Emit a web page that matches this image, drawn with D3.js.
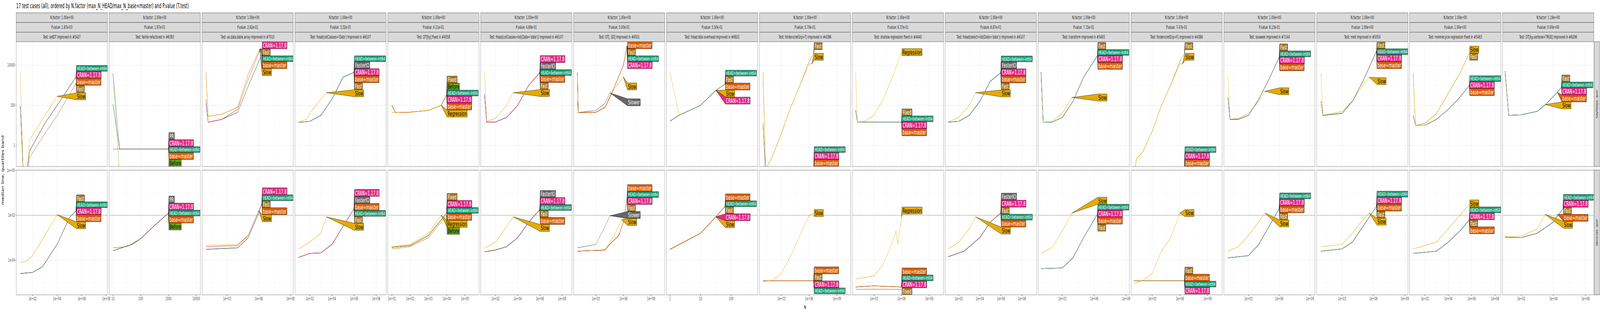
<!DOCTYPE html>
<html><head><meta charset="utf-8">
<script src="https://cdn.jsdelivr.net/npm/d3@7"></script>
<style>html,body{margin:0;padding:0;background:#fff;overflow:hidden}svg{display:block}</style>
</head><body>
<script>
// facet strips
var testNames = ['setDT improved in #5427', 'fwrite refactored in #6393', 'as.data.table.array improved in #7010',
  "fread(colClasses='Date') improved in #6107", 'DT[by] fixed in #4558', "fread(colClasses=list(Date='date')) improved in #6107",
  'DT[,.SD] improved in #4501', 'fread disk overhead improved in #6925', 'forderv(retGrp=T) improved in #4386',
  'shallow regression fixed in #4440', "fread(select=list(Date='date')) improved in #6107", 'transform improved in #5493',
  'forderv(retGrp=F) improved in #4386', 'isoweek improved in #7144', 'melt improved in #5054',
  'memrecycle regression fixed in #5463', 'DT[by,verbose=TRUE] improved in #6296'];
var pValues = ['1.87e-03', '1.97e-01', '2.62e-01', '3.32e-01', '4.11e-01', '4.69e-01', '5.00e-01', '5.50e-01', '5.70e-01',
  '6.37e-01', '6.87e-01', '7.15e-01', '7.47e-01', '8.13e-01', '1.00e+00', '1.00e+00', '0.00e+00'];
var nFactors = ['1.00e+00', '1.00e+00', '1.00e+00', '1.00e+00', '1.00e+00', '1.00e+00', '1.00e+00', '1.00e+00', '1.00e+00',
  '1.00e+00', '1.00e+00', '1.00e+00', '1.00e+00', '1.00e+00', '1.00e+00', '1.00e+00', '1.19e+00'];

// x axis per panel, log10(N)
var xDomains = [[0.67, 8.1], [0.86, 4.15], [0.63, 9.27], [0.66, 8.9], [0.78, 5.77], [0.66, 8.9], [0.59, 10.5], [-0.115, 2.87],
  [0.61, 10.5], [0.64, 10.56], [0.71, 9.38], [0.72, 9.3], [0.69, 10.6], [0.6, 9.5], [0.6, 9.3], [0.7, 8.5], [0.84, 6.51]];
var xTicks = [[2, 4, 6, 8], [1, 2, 3, 4], [3, 6, 9], [2, 4, 6, 8], [1, 2, 3, 4, 5], [2, 4, 6, 8], [3, 6, 9], [0, 1, 2],
  [3, 6, 9], [3, 6, 9], [2, 4, 6, 8], [3, 6, 9], [3, 6, 9], [3, 6, 9], [3, 6, 9], [2, 4, 6, 8], [2, 4, 6]];
var plainTickPanels = [1, 7];

// y axis per row, log10(value)
var units = ['kilobytes', 'seconds'];
var yDomains = [[-1.05, 5.17], [-5.55, 0.02]];
var yTicks = [[0, 2, 4], [-4, -2, 0]];
var yTickLabels = [['1', '100', '10000'], ['1e-04', '1e-02', '1e+00']];

var colors = {'HEAD=between-int64': '#1B9E77', 'CRAN=1.17.8': '#E7298A', 'base=master': '#D95F02', 'Fast': '#A6761D',
  'Slow': '#E6AB02', 'Before': '#66A61E', 'PR': '#666666', 'FasterIO': '#666666', 'Slower': '#666666',
  'Regression': '#E6AB02', 'Fixed': '#A6761D'};
var darkText = ['Slow', 'Before', 'Regression'];

var H = 'HEAD=between-int64', C = 'CRAN=1.17.8', B = 'base=master';

// [panel, row, label, [[log10 N, log10 value], ...]]
var p0kb = [[1, 1.95], [1.25, -1.5], [1.5, -1.5], [1.76, -0.27], [3, 1.1], [4, 2.0], [5.54, 3.42]];
var p0sec = [[1, -4.6], [2, -4.55], [2.8, -4.3], [4, -3.3], [5, -2.1], [5.54, -1.8]];
var p1kb = [[1, 2.06], [1.24, -0.18], [3, -0.18]];
var p1sec = [[1, -3.58], [1.7, -3.29], [2, -3.04], [2.5, -2.45], [3, -1.9]];
var p2kb = [[1, 2.3], [1.21, 1.16], [2.5, 1.3], [4, 1.65], [5, 2.95], [6.3, 4.55]];
var p2kbUp = [[1, 3.66], [1.21, 1.45], [2.5, 1.56], [4, 1.9], [5, 3.54], [6.1, 4.8]];
var p2sec = [[1, -3.52], [4, -3.45], [5, -3.0], [6, -1.9], [6.3, -1.45]];
var p3kb = [[1, 1.15], [2, 1.2], [3, 1.5], [4, 2.3], [5, 3.4], [6, 3.64]];
var p3sec = [[1, -3.88], [2, -3.7], [3, -3.68], [4, -3.3], [5, -2.5], [6, -1.7]];
var p4kb = [[1, 2.0], [1.2, 1.64], [2, 1.66], [3, 1.75], [3.7, 2.0], [4, 2.53]];
var p4sec = [[1, -3.43], [2, -3.35], [3, -2.9], [4, -1.9]];
var p5kb = [[1, 2.57], [1.2, 1.16], [2, 1.17], [3, 1.4], [4, 2.0], [5, 3.0], [6, 3.63]];
var p5sec = [[1, -3.63], [2, -3.55], [3, -3.4], [4, -3.0], [5, -2.3], [6, -1.75]];
var p6kb = [[1, 3.63], [1.1, 1.64], [3, 1.65], [4, 1.9], [5, 2.9], [6, 4.0], [6.4, 4.96]];
var p6sec = [[1, -3.6], [4, -3.55], [4.5, -3.3], [5.5, -2.9], [6, -2.3], [6.4, -1.24]];
var p7kb = [[0, 1.21], [0.3, 1.51], [1, 2.0], [1.5, 2.75], [1.8, 3.05]];
var p7sec = [[0, -3.52], [1, -2.8], [1.5, -2.07], [1.8, -1.6]];
var p8kb = [[1, 1.1], [1.3, -1.5], [6.5, -1.5]];
var p8fast = [[1, 3.63], [1.3, -1.5], [1.5, -1.0], [2, -0.56], [3, 0.6], [4, 1.9], [5, 3.0], [6, 4.2], [6.5, 4.6]];
var p8sec = [[1, -4.92], [6.5, -4.92]];
var p9kb = [[1, 1.77], [1.2, 1.16], [6, 1.16]];
var p9sec = [[1, -5.2], [3, -5.15], [6, -5.2]];
var p10kb = [[1, 1.16], [2, 1.2], [3, 1.5], [4, 2.2], [5, 3.2], [6, 3.63]];
var p10sec = [[1, -3.85], [2.5, -3.6], [4, -3.0], [5, -2.3], [6, -1.9]];
var p11kb = [[1, 3.65], [1.2, 1.16], [2, 1.15], [3, 1.4], [4, 2.2], [5, 3.4], [6.3, 4.47]];
var p11sec = [[1, -4.38], [3, -4.35], [4, -3.9], [5, -3.0], [6.3, -1.95]];
var p12kb = [[1, -1.5], [6.5, -1.5]];
var p12fast = [[1, -1.5], [1.3, -0.65], [2, -0.3], [3, 0.7], [4, 2.0], [5, 3.0], [6, 4.2], [6.5, 4.6]];
var p12sec = [[1, -4.92], [6.5, -4.92]];
var p13kb = [[1, 2.4], [1.2, 1.3], [2, 1.3], [3, 1.5], [4, 2.3], [5, 3.3], [6, 4.4]];
var p13sec = [[1, -3.9], [3, -3.8], [4, -3.3], [5, -2.5], [6, -1.7]];
var p14kb = [[1, 2.2], [1.2, 1.5], [3, 1.6], [4, 2.2], [5, 3.2], [6.3, 4.7]];
var p14sec = [[1, -3.6], [3, -3.5], [4, -3.2], [5, -2.5], [6.3, -1.6]];
var p15kb = [[1, 1.5], [1.2, 1.0], [2, 1.0], [3, 1.3], [4, 1.8], [5, 2.4], [5.8, 3.0]];
var p15up = [[1, 3.6], [1.2, 1.0], [2, 1.1], [3, 1.6], [4, 2.6], [5, 3.6], [5.8, 4.6]];
var p15sec = [[1, -3.7], [3, -3.6], [4, -3.2], [5, -2.7], [5.8, -2.2]];
var p16kb = [[1, 3.7], [1.22, 1.5], [2, 1.53], [3, 1.7], [3.51, 2.04], [4.25, 2.65], [4.5, 2.9]];
var p16sec = [[1, -2.98], [2, -3.0], [3, -2.8], [4, -2.3], [4.6, -1.7]];

var lines = [
  [0, 0, 'Fast', [[1, 1.95], [1.25, -1.5], [1.6, -1.5], [1.76, -0.6], [3, 0.6], [4, 1.5], [5.54, 3.1]]],
  [0, 0, B, p0kb], [0, 0, C, p0kb], [0, 0, H, p0kb],
  [0, 0, 'Slow', [[1, 3.64], [1.25, -1.5], [1.5, -1.5], [1.76, 0.28], [4, 2.45]]],
  [0, 1, 'Fast', p0sec], [0, 1, B, p0sec], [0, 1, C, p0sec], [0, 1, H, p0sec],
  [0, 1, 'Slow', [[1, -4.1], [1.5, -4.05], [2, -3.8], [3, -2.9], [4, -1.97]]],

  [1, 0, 'Before', [[1, 3.59], [1.24, -1.5], [3, -1.5]]], [1, 0, C, [[1, -0.18], [3, -0.18]]],
  [1, 0, B, p1kb], [1, 0, H, p1kb], [1, 0, 'PR', [[1, 3.59], [1.24, -0.18], [3, -0.18]]],
  [1, 1, 'Before', [[1, -3.45], [1.5, -3.4], [2, -3.04], [2.5, -2.45], [3, -1.9]]],
  [1, 1, B, p1sec], [1, 1, H, p1sec], [1, 1, C, p1sec], [1, 1, 'PR', p1sec],

  [2, 0, 'Fast', p2kbUp], [2, 0, 'Slow', p2kbUp], [2, 0, B, p2kb], [2, 0, H, p2kb],
  [2, 0, C, [[1, 2.1], [1.21, 1.16], [2.5, 1.3], [4, 1.8], [5, 3.3], [6.3, 4.99]]],
  [2, 1, 'Slow', [[1, -3.34], [4, -3.3], [5, -2.9], [6, -1.8]]], [2, 1, 'Fast', p2sec], [2, 1, B, p2sec], [2, 1, H, p2sec],
  [2, 1, C, [[1, -3.4], [4, -3.35], [5, -2.9], [6, -1.8], [6.3, -1.45]]],

  [3, 0, 'Slow', [[1, 1.18], [1.7, 1.3], [2.2, 1.75], [3.5, 2.63]]], [3, 0, 'Fast', p3kb], [3, 0, B, p3kb],
  [3, 0, C, p3kb], [3, 0, 'FasterIO', p3kb], [3, 0, H, p3kb],
  [3, 1, 'Slow', [[1, -3.5], [2, -3.2], [3, -2.8], [3.5, -2.07]]], [3, 1, 'Fast', p3sec], [3, 1, H, p3sec],
  [3, 1, B, p3sec], [3, 1, 'FasterIO', p3sec], [3, 1, C, p3sec],

  [4, 0, 'Fixed', p4kb], [4, 0, 'Before', p4kb], [4, 0, H, p4kb], [4, 0, C, p4kb], [4, 0, B, p4kb],
  [4, 0, 'Regression', [[1, 1.64], [2, 1.66], [3, 1.75], [3.7, 2.0]]],
  [4, 1, 'Before', [[1, -3.5], [2, -3.4], [3, -3.0], [4, -2.0]]], [4, 1, 'Fixed', p4sec], [4, 1, C, p4sec],
  [4, 1, H, p4sec], [4, 1, B, p4sec], [4, 1, 'Regression', [[1, -3.4], [2, -3.3], [3, -2.8], [3.7, -2.0]]],

  [5, 0, 'Slow', [[1, 3.67], [1.2, 1.2], [2, 1.35], [3, 2.0], [3.6, 2.63]]], [5, 0, 'Fast', p5kb], [5, 0, B, p5kb],
  [5, 0, H, p5kb], [5, 0, 'FasterIO', p5kb], [5, 0, C, p5kb],
  [5, 1, 'Slow', [[1, -3.47], [2, -3.2], [3, -2.5], [3.6, -2.07]]], [5, 1, B, p5sec], [5, 1, 'Fast', p5sec],
  [5, 1, H, p5sec], [5, 1, C, p5sec], [5, 1, 'FasterIO', p5sec],

  [6, 0, 'Slower', [[1, 2.18], [1.1, 1.64], [3, 1.75], [4, 2.1], [4.54, 2.62]]],
  [6, 0, 'Slow', [[1, 3.63], [1.1, 1.64], [3, 1.65], [4, 1.9], [5, 2.8], [6, 3.41]]],
  [6, 0, C, p6kb], [6, 0, H, p6kb], [6, 0, 'Fast', p6kb], [6, 0, B, p6kb],
  [6, 1, 'Slower', [[1, -3.45], [3, -3.3], [4, -2.5], [4.54, -2.02]]],
  [6, 1, 'Slow', [[1, -3.6], [4, -3.55], [5, -2.9], [5.8, -2.2]]],
  [6, 1, 'Fast', p6sec], [6, 1, C, p6sec], [6, 1, H, p6sec], [6, 1, B, p6sec],

  [7, 0, 'Slow', [[0, 3.63], [0.3, 1.51], [1, 2.0], [1.5, 2.75]]], [7, 0, C, [[0, 1.21], [0.3, 1.51], [1, 2.0], [1.5, 2.75]]],
  [7, 0, B, p7kb], [7, 0, 'Fast', p7kb], [7, 0, H, p7kb],
  [7, 1, 'Slow', [[0, -3.52], [1, -2.8], [1.5, -2.07]]], [7, 1, C, [[0, -3.52], [1, -2.8], [1.5, -2.07]]],
  [7, 1, 'Fast', p7sec], [7, 1, H, p7sec], [7, 1, B, p7sec],

  [8, 0, B, p8kb], [8, 0, C, p8kb], [8, 0, H, p8kb], [8, 0, 'Fast', p8fast],
  [8, 0, 'Slow', [[1, 3.63], [1.3, -1.5], [1.5, -1.0], [2, -0.56], [3, 0.6], [4, 1.9], [5, 3.0], [6, 4.07], [6.3, 4.07]]],
  [8, 1, H, p8sec], [8, 1, C, p8sec], [8, 1, 'Fast', p8sec], [8, 1, B, p8sec],
  [8, 1, 'Slow', [[1, -4.96], [2, -4.9], [3, -4.6], [4, -3.8], [5, -2.9], [6, -2.0], [6.5, -1.9]]],

  [9, 0, 'Fixed', p9kb], [9, 0, B, p9kb], [9, 0, C, p9kb], [9, 0, H, p9kb],
  [9, 0, 'Regression', [[1, 3.63], [1.2, 1.16], [2, 1.2], [3, 1.5], [4, 2.3], [5, 3.4], [6, 4.65]]],
  [9, 1, 'Fixed', [[1, -5.3], [6, -5.3]]], [9, 1, C, p9sec], [9, 1, H, p9sec], [9, 1, B, p9sec],
  [9, 1, 'Regression', [[1, -4.85], [3, -4.7], [4, -4.2], [5, -3.2], [5.4, -2.7], [5.6, -3.3], [6, -2.07]]],

  [10, 0, 'Slow', [[1, 1.16], [2, 1.4], [3, 2.0], [3.6, 2.63]]], [10, 0, 'Fast', p10kb], [10, 0, B, p10kb],
  [10, 0, C, p10kb], [10, 0, 'FasterIO', p10kb], [10, 0, H, p10kb],
  [10, 1, 'Slow', [[1, -3.5], [2, -3.2], [3, -2.6], [3.6, -2.07]]], [10, 1, B, p10sec], [10, 1, H, p10sec],
  [10, 1, 'Fast', p10sec], [10, 1, C, p10sec], [10, 1, 'FasterIO', p10sec],

  [11, 0, 'Slow', [[1, 3.65], [1.2, 1.16], [2, 1.2], [3, 1.6], [3.9, 2.39]]], [11, 0, B, p11kb], [11, 0, C, p11kb],
  [11, 0, 'Fast', p11kb], [11, 0, H, p11kb],
  [11, 1, 'Slow', [[1, -3.7], [2, -3.45], [3, -2.7], [3.9, -1.9]]], [11, 1, 'Fast', p11sec], [11, 1, B, p11sec],
  [11, 1, C, p11sec], [11, 1, H, p11sec],

  [12, 0, B, p12kb], [12, 0, C, p12kb], [12, 0, H, p12kb], [12, 0, 'Fast', p12fast],
  [12, 0, 'Slow', [[1, -1.5], [1.3, -0.65], [2, -0.3], [3, 0.7], [4, 2.0], [5, 3.0], [6, 4.07], [6.3, 4.07]]],
  [12, 1, C, p12sec], [12, 1, H, p12sec], [12, 1, B, p12sec], [12, 1, 'Fast', p12sec],
  [12, 1, 'Slow', [[1, -5.04], [2, -4.9], [3, -4.6], [4, -3.6], [5, -3.0], [6, -1.9]]],

  [13, 0, 'Slow', [[1, 3.5], [1.2, 1.3], [2, 1.35], [3, 1.6], [4, 2.2], [4.6, 2.7]]], [13, 0, 'Fast', p13kb],
  [13, 0, B, p13kb], [13, 0, C, p13kb], [13, 0, H, p13kb],
  [13, 1, 'Slow', [[1, -3.6], [2, -3.4], [3, -2.9], [4, -2.3], [4.6, -1.9]]], [13, 1, 'Fast', p13sec],
  [13, 1, B, p13sec], [13, 1, C, p13sec], [13, 1, H, p13sec],

  [14, 0, 'Slow', [[1, 3.6], [1.2, 1.5], [3, 1.7], [4, 2.2], [5, 3.0], [5.6, 3.4]]], [14, 0, 'Fast', p14kb],
  [14, 0, B, p14kb], [14, 0, C, p14kb], [14, 0, H, p14kb],
  [14, 1, 'Slow', [[1, -3.4], [3, -3.3], [4, -2.8], [5, -2.2], [5.6, -1.9]]], [14, 1, 'Fast', p14sec],
  [14, 1, B, p14sec], [14, 1, C, p14sec], [14, 1, H, p14sec],

  [15, 0, B, p15kb], [15, 0, C, p15kb], [15, 0, H, p15kb], [15, 0, 'Fast', p15up], [15, 0, 'Slow', p15up],
  [15, 1, B, p15sec], [15, 1, 'Fast', p15sec], [15, 1, C, p15sec], [15, 1, H, p15sec],
  [15, 1, 'Slow', [[1, -3.5], [3, -3.2], [4, -2.6], [5, -2.0], [5.8, -1.5]]],

  [16, 0, 'Slow', [[1, 3.7], [1.22, 1.5], [2, 1.53], [3, 1.7], [3.51, 2.04]]],
  [16, 0, B, [[1, 3.7], [1.22, 1.5], [2, 1.53], [3, 1.7], [3.51, 2.04], [4.25, 2.65]]],
  [16, 0, 'Fast', p16kb], [16, 0, C, p16kb], [16, 0, H, p16kb],
  [16, 1, 'Slow', [[1, -2.95], [2, -2.93], [3, -2.6], [3.5, -1.96]]],
  [16, 1, B, [[1, -2.98], [2, -3.0], [3, -2.8], [4, -2.3], [4.25, -1.96]]],
  [16, 1, 'Fast', p16sec], [16, 1, C, p16sec], [16, 1, H, p16sec]
];

// label stacking order (top to bottom) per panel and row
var labelOrder = [
  [[H, C, B, 'Fast', 'Slow'], ['Fast', H, C, B, 'Slow']],
  [['PR', C, H, B, 'Before'], ['PR', C, H, B, 'Before']],
  [[C, 'Fast', H, B, 'Slow'], [C, H, 'Fast', B, 'Slow']],
  [[H, 'FasterIO', C, B, 'Fast', 'Slow'], [C, 'FasterIO', B, H, 'Fast', 'Slow']],
  [['Fixed', 'Before', H, C, B, 'Regression'], ['Fixed', C, H, B, 'Regression', 'Before']],
  [[C, 'FasterIO', H, B, 'Fast', 'Slow'], ['FasterIO', C, H, 'Fast', B, 'Slow']],
  [[B, 'Fast', H, C, 'Slow', 'Slower'], [B, H, C, 'Fast', 'Slower', 'Slow']],
  [[H, 'Fast', B, 'Slow', C], [B, H, 'Fast', C, 'Slow']],
  [['Fast', 'Slow', H, C, B], ['Slow', B, 'Fast', C, H]],
  [['Regression', 'Fixed', H, C, B], ['Regression', B, H, C, 'Fixed']],
  [[H, 'FasterIO', C, B, 'Fast', 'Slow'], ['FasterIO', C, 'Fast', H, B, 'Slow']],
  [['Fast', H, C, B, 'Slow'], ['Slow', H, C, B, 'Fast']],
  [['Fast', 'Slow', H, C, B], ['Slow', 'Fast', B, H, C]],
  [['Fast', H, C, B, 'Slow'], [H, C, B, 'Fast', 'Slow']],
  [['Fast', H, C, B, 'Slow'], [H, C, B, 'Fast', 'Slow']],
  [['Slow', 'Fast', H, C, B], ['Slow', H, C, 'Fast', B]],
  [['Fast', H, C, B, 'Slow'], [H, C, 'Fast', B, 'Slow']]
];

var W = 6800, HT = 800;
var svg = d3.select('body').append('svg')
  .attr('viewBox', '0 0 ' + W + ' ' + HT).attr('preserveAspectRatio', 'none')
  .style('width', '100vw').style('height', '100vh')
  .style('font-family', '"Liberation Sans Narrow", "DejaVu Sans Condensed", sans-serif');

var left0 = 69, panelW = 387.8, gap = 7;
var stripTop = 33, stripH = 24.7;
var rowTop = [107, 436], rowH = 320;

svg.append('text').attr('x', 69).attr('y', 21).attr('font-size', 17)
  .text('17 test cases (all), ordered by N.factor (max_N_HEAD/max_N_base=master) and P.value (T.test)');
svg.append('text').attr('transform', 'translate(16,' + (436) + ') rotate(-90)').attr('text-anchor', 'middle')
  .attr('font-family', 'DejaVu Sans, sans-serif').attr('font-size', 13).text('median line, quartiles band');
svg.append('text').attr('x', (left0 + 6774) / 2).attr('y', 792).attr('text-anchor', 'middle')
  .attr('font-family', 'DejaVu Sans, sans-serif').attr('font-size', 13).text('N');

var lineGen = d3.line();

testNames.forEach(function (name, p) {
  var x0 = left0 + p * (panelW + gap);
  var xs = d3.scaleLinear().domain(xDomains[p]).range([x0, x0 + panelW]);
  var strips = ['N.factor: ' + nFactors[p], 'P.value: ' + pValues[p], 'Test: ' + name];
  strips.forEach(function (s, k) {
    svg.append('rect').attr('x', x0).attr('y', stripTop + k * stripH).attr('width', panelW).attr('height', stripH)
      .attr('fill', '#D9D9D9').attr('stroke', '#333').attr('stroke-width', 0.8);
    svg.append('text').attr('x', x0 + panelW / 2).attr('y', stripTop + k * stripH + stripH / 2 + 4)
      .attr('text-anchor', 'middle').attr('font-size', 11.5).attr('fill', '#1A1A1A').text(s);
  });

  units.forEach(function (u, r) {
    var ys = d3.scaleLinear().domain(yDomains[r]).range([rowTop[r] + rowH, rowTop[r]]);
    var g = svg.append('g');
    var clipId = 'c' + p + '_' + r;
    g.append('clipPath').attr('id', clipId).append('rect')
      .attr('x', x0).attr('y', rowTop[r]).attr('width', panelW).attr('height', rowH);
    g.append('rect').attr('x', x0).attr('y', rowTop[r]).attr('width', panelW).attr('height', rowH).attr('fill', '#fff');

    // grid
    var xt = xTicks[p], step = xt[1] - xt[0];
    var xMinor = d3.range(xt[0] - step / 2, xDomains[p][1], step).filter(function (v) { return v > xDomains[p][0]; });
    var yMinor = [-5, -3, -1, 1, 3, 5].filter(function (v) { return v > yDomains[r][0] && v < yDomains[r][1]; });
    var grid = g.append('g').attr('clip-path', 'url(#' + clipId + ')');
    xMinor.forEach(function (v) { grid.append('line').attr('x1', xs(v)).attr('x2', xs(v)).attr('y1', rowTop[r]).attr('y2', rowTop[r] + rowH).attr('stroke', '#F2F2F2').attr('stroke-width', 0.6); });
    yMinor.forEach(function (v) { grid.append('line').attr('x1', x0).attr('x2', x0 + panelW).attr('y1', ys(v)).attr('y2', ys(v)).attr('stroke', '#F2F2F2').attr('stroke-width', 0.6); });
    xt.forEach(function (v) { grid.append('line').attr('x1', xs(v)).attr('x2', xs(v)).attr('y1', rowTop[r]).attr('y2', rowTop[r] + rowH).attr('stroke', '#EBEBEB').attr('stroke-width', 1.1); });
    yTicks[r].forEach(function (v) { grid.append('line').attr('x1', x0).attr('x2', x0 + panelW).attr('y1', ys(v)).attr('y2', ys(v)).attr('stroke', '#EBEBEB').attr('stroke-width', 1.1); });
    if (r === 1) grid.append('line').attr('x1', x0).attr('x2', x0 + panelW).attr('y1', ys(-2)).attr('y2', ys(-2)).attr('stroke', '#BEBEBE').attr('stroke-width', 1.6);

    // lines
    var mine = lines.filter(function (l) { return l[0] === p && l[1] === r; });
    var lg = g.append('g').attr('clip-path', 'url(#' + clipId + ')');
    mine.forEach(function (l) {
      lg.append('path').attr('d', lineGen(l[3].map(function (d) { return [xs(d[0]), ys(d[1])]; })))
        .attr('fill', 'none').attr('stroke', colors[l[2]]).attr('stroke-width', 1.1);
    });

    // direct labels
    var ends = {};
    mine.forEach(function (l) { var e = l[3][l[3].length - 1]; ends[l[2]] = [xs(e[0]), ys(e[1])]; });
    var order = labelOrder[p][r];
    var bx = d3.max(order, function (k) { return ends[k][0]; }) + 2;
    var boxes = order.map(function (k) {
      var small = k === H;
      var h = small ? 15 : 18;
      var cy = Math.max(rowTop[r] + h / 2, Math.min(rowTop[r] + rowH - h / 2, ends[k][1]));
      return {k: k, h: h, cy: cy, fs: small ? 13 : 16.5};
    });
    for (var it = 0; it < 200; it++) {
      for (var i = 1; i < boxes.length; i++) {
        var a = boxes[i - 1], b = boxes[i];
        var ov = (a.cy + a.h / 2) - (b.cy - b.h / 2);
        if (ov > 0) { a.cy -= ov / 2; b.cy += ov / 2; }
      }
      var topOv = rowTop[r] - (boxes[0].cy - boxes[0].h / 2);
      if (topOv > 0) boxes.forEach(function (bb) { bb.cy += topOv; });
      var last = boxes[boxes.length - 1];
      var botOv = (last.cy + last.h / 2) - (rowTop[r] + rowH);
      if (botOv > 0) boxes.forEach(function (bb) { bb.cy -= botOv; });
    }
    var lab = g.append('g').attr('clip-path', 'url(#' + clipId + ')');
    boxes.forEach(function (bb) {
      var t = lab.append('text').attr('x', bx + 2).attr('y', bb.cy + bb.fs * 0.36).attr('font-size', bb.fs)
        .attr('fill', darkText.indexOf(bb.k) >= 0 ? '#000' : '#fff').text(bb.k);
      var tw = t.node().getComputedTextLength() + 4;
      var y0 = bb.cy - bb.h / 2, y1 = bb.cy + bb.h / 2, e = ends[bb.k];
      var pts = [[bx, y0], [bx + tw, y0], [bx + tw, y1], [bx, y1]];
      if (e[0] < bx - 3 || e[1] < y0 || e[1] > y1) pts.push(e);
      lab.insert('polygon', 'text').attr('points', pts.map(function (q) { return q.join(','); }).join(' '))
        .attr('fill', colors[bb.k]).attr('stroke', '#000').attr('stroke-width', 0.8);
    });

    g.append('rect').attr('x', x0).attr('y', rowTop[r]).attr('width', panelW).attr('height', rowH)
      .attr('fill', 'none').attr('stroke', '#7F7F7F').attr('stroke-width', 1);

    if (p === 0) {
      yTicks[r].forEach(function (v, k) {
        svg.append('line').attr('x1', x0 - 3).attr('x2', x0).attr('y1', ys(v)).attr('y2', ys(v)).attr('stroke', '#333');
        svg.append('text').attr('x', x0 - 5).attr('y', ys(v) + 4).attr('text-anchor', 'end').attr('font-size', 11.5)
          .attr('fill', '#4D4D4D').text(yTickLabels[r][k]);
      });
    }
    if (r === 1) {
      xt.forEach(function (v) {
        if (xs(v) > x0 + panelW + 1) return;
        svg.append('line').attr('x1', xs(v)).attr('x2', xs(v)).attr('y1', rowTop[1] + rowH).attr('y2', rowTop[1] + rowH + 3).attr('stroke', '#333');
        svg.append('text').attr('x', xs(v)).attr('y', rowTop[1] + rowH + 14).attr('text-anchor', 'middle').attr('font-size', 11.5)
          .attr('fill', '#4D4D4D').text(plainTickPanels.indexOf(p) >= 0 ? String(Math.pow(10, v)) : '1e+0' + v);
      });
    }
  });
});

// row strips
units.forEach(function (u, r) {
  var x = 6776;
  svg.append('rect').attr('x', x).attr('y', rowTop[r]).attr('width', 22).attr('height', rowH)
    .attr('fill', '#D9D9D9').attr('stroke', '#333').attr('stroke-width', 0.8);
  svg.append('text').attr('transform', 'translate(' + (x + 7) + ',' + (rowTop[r] + rowH / 2) + ') rotate(90)')
    .attr('text-anchor', 'middle').attr('font-size', 11.5).attr('fill', '#1A1A1A').text('unit: ' + u);
});
</script>
</body></html>
